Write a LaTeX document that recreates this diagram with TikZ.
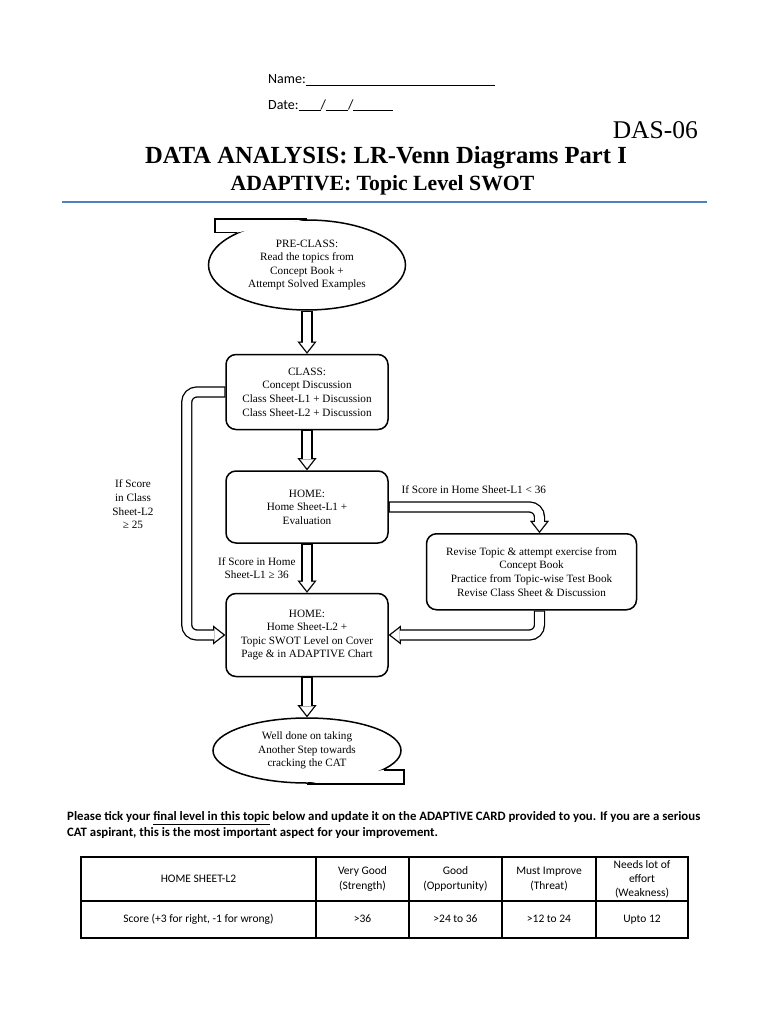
\documentclass[tikz,border=0pt]{standalone}
\usepackage{fontspec}
\setmainfont{Liberation Serif}
\setsansfont{Carlito}
\usepackage{tikz}
\usetikzlibrary{shapes.geometric, arrows.meta, positioning}
\usepackage{xcolor}

\definecolor{ruleblue}{RGB}{79,129,189}
\newcommand{\flowfont}{\fontsize{11.2}{13.6}\selectfont}
\newcommand{\fillline}[1]{\rule[-1.5pt]{#1pt}{0.7pt}}

\begin{document}
\begin{tikzpicture}[
        x=1pt, y=-1pt,
        box/.style={draw, line width=1.5pt, rounded corners=10pt, minimum width=162pt, align=center, font=\flowfont, inner sep=2pt},
        bubble/.style={draw, ellipse, line width=1.5pt, inner sep=0pt, align=center, font=\flowfont, fill=white},
        lbl/.style={align=center, font=\flowfont},
        tab/.style={line width=1.5pt, line join=miter},
        hollow/.style={white, line width=8.6pt, rounded corners=10pt, shorten <=1pt, shorten >=2.1pt,
            -{Triangle[length=8.8pt, width=13.7pt, line width=0.1pt]},
            preaction={draw=black, black, line width=11.2pt, shorten <=0pt, shorten >=0pt,
                -{Triangle[length=12.2pt, width=19pt, line width=0.1pt]}}},
        cell/.style={draw, line width=1.3pt, align=center, inner sep=0pt, font=\sffamily\fontsize{11.5}{14.2}\selectfont},
        valcell/.style={cell, minimum height=37pt, text height=8.5pt, text depth=3pt}
    ]

    \fill[white] (0,0) rectangle (768,1024);
    \useasboundingbox (0,0) rectangle (768,1024);

    % header
    \node[anchor=west, inner sep=0pt, font=\sffamily\fontsize{14}{16}\selectfont] (name) at (268,80) {Name:\fillline{189}};
    \node[anchor=west, inner sep=0pt, font=\sffamily\fontsize{14}{16}\selectfont] (date) at (268,105) {Date:\fillline{22}/\fillline{22}/\fillline{40}};
    \node[anchor=east, inner sep=0pt, font=\fontsize{25.5}{28}\selectfont] (code) at (698,130) {DAS-06};
    \node[inner sep=0pt, font=\bfseries\fontsize{24.6}{28}\selectfont] (title) at (386,158) {DATA ANALYSIS: LR-Venn Diagrams Part I};
    \node[inner sep=0pt, font=\bfseries\fontsize{21.7}{24}\selectfont] (subtitle) at (382.5,185) {ADAPTIVE: Topic Level SWOT};
    \draw[ruleblue, line width=1.1pt] (62,202) -- (707,202);

    % flow chart
    \node[bubble, minimum width=197pt, minimum height=90pt] (pre) at (307,265) {PRE-CLASS:\\Read the topics from\\Concept Book +\\Attempt Solved Examples};
    \node[box, below=43pt of pre, minimum height=75pt] (class) {CLASS:\\Concept Discussion\\Class Sheet-L1 + Discussion\\Class Sheet-L2 + Discussion};
    \node[box, below=40pt of class, minimum height=72pt] (home1) {HOME:\\Home Sheet-L1 +\\Evaluation};
    \node[box, below=49pt of home1, minimum height=83pt] (home2) {HOME:\\Home Sheet-L2 +\\Topic SWOT Level on Cover\\Page \& in ADAPTIVE Chart};
    \node[box, below right=26pt and 37pt of home1.east, minimum width=210pt, minimum height=76pt] (revise) {Revise Topic \& attempt exercise from\\Concept Book\\Practice from Topic-wise Test Book\\Revise Class Sheet \& Discussion};
    \node[bubble, below=40pt of home2, minimum width=188pt, minimum height=65pt] (done) {Well done on taking\\Another Step towards\\cracking the CAT};

    % callout tabs
    \fill[white] ([xshift=7pt]pre.west |- pre.north) -- ([xshift=7pt]pre.west |- pre.155) -- (pre.155) -- (pre.north) -- cycle;
    \draw[tab] (pre.155) -- ([xshift=7pt]pre.west |- pre.155) -- ([xshift=7pt]pre.west |- pre.north) -- (pre.north);
    \fill[white] (done.-14) -- ([xshift=2pt]done.east |- done.-14) -- ([xshift=2pt]done.east |- done.south) -- (done.south) -- cycle;
    \draw[tab] (done.-14) -- ([xshift=2pt]done.east |- done.-14) -- ([xshift=2pt]done.east |- done.south) -- (done.south);

    % labels
    \node[lbl] (classcond) at (133,504.5) {If Score\\in Class\\Sheet-L2\\≥ 25};
    \node[lbl, anchor=east] (passcond) at (299,568) {If Score in Home\\Sheet-L1 ≥ 36};
    \node[lbl, anchor=west] (failcond) at (398,490) {If Score in Home Sheet-L1 < 36};

    % connectors
    \draw[hollow] (pre.south) -- (class.north);
    \draw[hollow] (class.south) -- (home1.north);
    \draw[hollow] (home1.south) -- (home2.north);
    \draw[hollow] (home2.south) -- (done.north);
    \draw[hollow] (class.west) -- ++(-38.5,0) |- (home2.west);
    \draw[hollow] (home1.east) -| ([xshift=8pt]revise.north);
    \draw[hollow] ([xshift=8pt]revise.south) |- (home2.east);

    % note and table
    \node[anchor=west, inner sep=0pt, align=left, font=\sffamily\bfseries\fontsize{12.8}{16}\selectfont] (note) at (67,825)
        {Please tick your \underline{final level in this topic} below and update it on the ADAPTIVE CARD provided to you. If you are a serious\\
         CAT aspirant, this is the most important aspect for your improvement.};

    \node[cell, minimum width=235pt, minimum height=44pt] (sheet) at (198.5,879) {HOME SHEET-L2};
    \node[cell, minimum width=93pt, minimum height=44pt] (vgood) at (362.5,879) {Very Good\\(Strength)};
    \node[cell, minimum width=93pt, minimum height=44pt] (good) at (455.5,879) {Good\\(Opportunity)};
    \node[cell, minimum width=94pt, minimum height=44pt] (must) at (549,879) {Must Improve\\(Threat)};
    \node[cell, minimum width=92pt, minimum height=44pt] (needs) at (642,879) {Needs lot of\\effort\\(Weakness)};
    \node[valcell, minimum width=235pt] (score) at (198.5,919.5) {Score (+3 for right, -1 for wrong)};
    \node[valcell, minimum width=93pt] (vgoodval) at (362.5,919.5) {>36};
    \node[valcell, minimum width=93pt] (goodval) at (455.5,919.5) {>24 to 36};
    \node[valcell, minimum width=94pt] (mustval) at (549,919.5) {>12 to 24};
    \node[valcell, minimum width=92pt] (needsval) at (642,919.5) {Upto 12};

\end{tikzpicture}
\end{document}
